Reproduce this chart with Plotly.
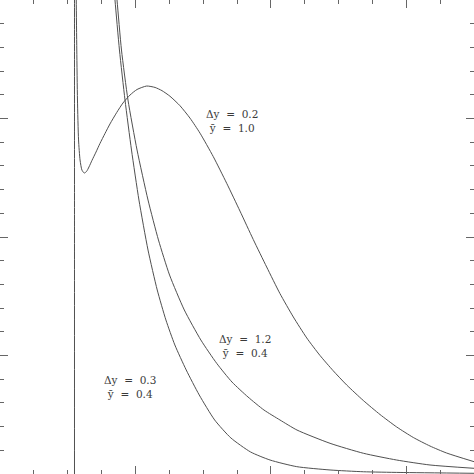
import plotly.graph_objects as go

# Curve: dy = 0.2, ybar = 1.0  (vertical rise at x~0.55, dip, hump, decay)
a_x = [0.550, 0.550, 0.550, 0.550, 0.560, 0.563, 0.567, 0.572, 0.580, 0.591, 0.605, 0.622,
       0.639, 0.657, 0.679, 0.709, 0.738, 0.775, 0.812, 0.862, 0.908, 0.960, 1.012, 1.083,
       1.145, 1.196, 1.255, 1.329, 1.403, 1.477, 1.575, 1.674, 1.772, 1.870, 1.969, 2.067,
       2.166, 2.265, 2.363, 2.459, 2.560, 2.683, 2.806, 2.929, 3.052, 3.175, 3.298, 3.500]
a_y = [0.000, 2.000, 4.000, 4.500, 4.500, 4.000, 3.578, 3.156, 2.819, 2.650, 2.565, 2.540,
       2.553, 2.591, 2.646, 2.717, 2.789, 2.873, 2.954, 3.051, 3.131, 3.198, 3.245, 3.274,
       3.262, 3.235, 3.188, 3.108, 3.003, 2.876, 2.678, 2.453, 2.219, 1.979, 1.747, 1.523,
       1.325, 1.148, 1.000, 0.873, 0.751, 0.620, 0.502, 0.397, 0.308, 0.236, 0.177, 0.104]

# Curve: dy = 1.2, ybar = 0.4
b_x = [0.844, 0.864, 0.897, 0.945, 1.012, 1.093, 1.170, 1.252, 1.361, 1.483, 1.600, 1.713,
       1.831, 1.949, 2.067, 2.193, 2.437, 2.683, 2.929, 3.175, 3.500]
b_y = [4.253, 4.000, 3.578, 3.156, 2.734, 2.312, 1.975, 1.679, 1.384, 1.131, 0.934, 0.776,
       0.650, 0.540, 0.456, 0.371, 0.259, 0.175, 0.118, 0.076, 0.048]

# Curve: dy = 0.3, ybar = 0.4
c_x = [0.831, 0.849, 0.882, 0.923, 0.971, 1.026, 1.093, 1.161, 1.225, 1.291, 1.375, 1.471,
       1.585, 1.705, 1.850, 1.994, 2.191, 2.437, 2.683, 2.954, 3.500]
c_y = [4.253, 4.000, 3.578, 3.156, 2.734, 2.312, 1.890, 1.553, 1.300, 1.089, 0.878, 0.667,
       0.456, 0.304, 0.186, 0.118, 0.062, 0.034, 0.019, 0.013, 0.006]

# Labels
label_text = ["Δy\u00a0\u00a0=\u00a0\u00a00.2<br>ȳ\u00a0\u00a0=\u00a0\u00a01.0",
              "Δy\u00a0\u00a0=\u00a0\u00a01.2<br>ȳ\u00a0\u00a0=\u00a0\u00a00.4",
              "Δy\u00a0\u00a0=\u00a0\u00a00.3<br>ȳ\u00a0\u00a0=\u00a0\u00a00.4"]
label_x = [1.713, 1.809, 0.960]
label_y = [2.979, 1.080, 0.734]

line_color = "#505050"

fig = go.Figure()
for xs, ys in [(a_x, a_y), (b_x, b_y), (c_x, c_y)]:
    fig.add_trace(go.Scatter(x=xs, y=ys, mode="lines",
                             line=dict(color=line_color, width=1.0, shape="spline", smoothing=0.6),
                             showlegend=False, hoverinfo="skip"))

for t, x, y in zip(label_text, label_x, label_y):
    fig.add_annotation(x=x, y=y, text=t, showarrow=False, xanchor="center", yanchor="middle",
                       align="center",
                       font=dict(family="DejaVu Serif", size=10.5, color="#3a3a3a"))

axis_common = dict(showgrid=False, zeroline=False, showline=False, showticklabels=False,
                   ticks="inside", ticklen=8, tickwidth=1, tickcolor="#666666", mirror="ticks")

fig.update_xaxes(range=[0, 3.5], tick0=0, dtick=1,
                 minor=dict(ticks="inside", dtick=0.25, ticklen=4, tickcolor="#666666", tickwidth=1),
                 **axis_common)
fig.update_yaxes(range=[0, 4], tick0=0, dtick=1,
                 minor=dict(ticks="inside", dtick=0.2, ticklen=4, tickcolor="#666666", tickwidth=1),
                 **axis_common)

fig.update_layout(width=474, height=474, margin=dict(l=0, r=0, t=0, b=0),
                  paper_bgcolor="white", plot_bgcolor="white")

fig.write_html("out.html", config={"displayModeBar": False},
               post_script="document.body.style.margin='0';document.body.style.overflow='hidden';")
